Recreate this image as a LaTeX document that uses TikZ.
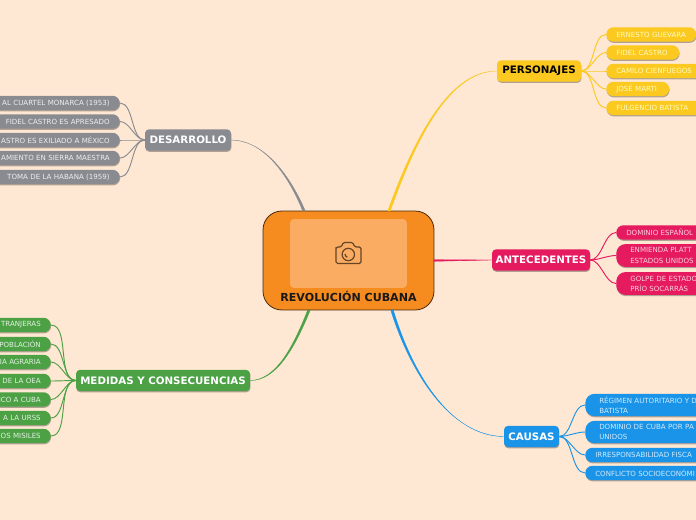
\documentclass[tikz,border=0pt]{standalone}
\usepackage{fontspec}
\setmainfont{DejaVu Sans}
\usetikzlibrary{calc,shadows}
\definecolor{bgc}{HTML}{FEE8D3}
\definecolor{orc}{HTML}{F68B1F}
\definecolor{orl}{HTML}{FAAC62}
\definecolor{yec}{HTML}{FBC91F}
\definecolor{pkc}{HTML}{E51A5F}
\definecolor{blc}{HTML}{1A94E8}
\definecolor{grc}{HTML}{8A8B91}
\definecolor{gnc}{HTML}{4CA145}
\tikzset{
  sh/.style={drop shadow={shadow xshift=0.3pt,shadow yshift=-0.9pt,opacity=.3,fill=black}},
  mainbox/.style={sh,rounded corners=3pt,inner sep=0pt,minimum height=16pt,font=\bfseries\fontsize{7.7}{10}\selectfont},
  pill/.style={sh,rounded corners=5.4pt,inner ysep=0pt,font=\fontsize{5.3}{7.6}\selectfont,minimum height=#1},
  pill/.default=10.8pt,
  link/.style={line width=.7pt,line cap=round},
  trunk/.style={line width=.25pt,line join=round}
}
\newcommand{\lpill}[7]{% name, colour, text colour, x, y centre, height, text
  \node[pill=#6,fill=#2,text=#3,anchor=east,minimum width=150pt,text width=135pt,inner xsep=7.5pt,align=right] (#1) at (#4,#5) {#7};}
\begin{document}
\begin{tikzpicture}[x=.75pt,y=-.75pt]
\useasboundingbox (0,0) rectangle (696,520);
\clip (0,0) rectangle (696,520);
\fill[bgc] (0,0) rectangle (696,520);

% centre
\node[draw=black!70!orc,line width=.6pt,fill=orc,rounded corners=14pt,minimum width=128.2pt,minimum height=74.2pt,inner sep=0pt] (root) at (348.5,260.5) {};
\node[fill=orl,rounded corners=3pt,minimum width=87.7pt,minimum height=51.7pt,inner sep=0pt] (pic) at (348.5,253.5) {};
\node[font=\bfseries\fontsize{8.3}{10}\selectfont,text=black!90,inner sep=0pt] (title) at (348.5,296) {REVOLUCIÓN CUBANA};

% camera icon
\begin{scope}[draw=black!60!orl,line width=.9pt,rounded corners=1.2pt,line join=round]
\draw (336,249) -- (336,263.5) -- (361,263.5) -- (361,247) -- (354.5,247) -- (353,242.5) -- (343,242.5) -- (341.5,247) -- (336,247) -- cycle;
\draw (348.3,254.5) circle[radius=6.2];
\draw (345,254) arc[start angle=180,end angle=110,radius=3.5];
\end{scope}

% main branches
\node[mainbox,fill=yec,text=black,minimum width=63pt] (pers) at (539,71) {PERSONAJES};
\node[mainbox,fill=pkc,text=white,minimum width=73.5pt] (ante) at (541,260) {ANTECEDENTES};
\node[mainbox,fill=blc,text=white,minimum width=41.2pt] (caus) at (531.5,436.5) {CAUSAS};
\node[mainbox,fill=grc,text=white,minimum width=64.5pt] (desa) at (188,140) {DESARROLLO};
\node[mainbox,fill=gnc,text=white,minimum width=130.5pt] (medi) at (163,380.5) {MEDIDAS Y CONSECUENCIAS};

% PERSONAJES children
\node[pill,fill=yec,text=yellow!25!white,anchor=west,minimum width=67.5pt,text width=52.5pt,inner xsep=7.5pt,align=left] (p1) at (606,34.5) {ERNESTO GUEVARA};
\node[pill,fill=yec,text=yellow!25!white,anchor=west,minimum width=54.7pt,text width=39.7pt,inner xsep=7.5pt,align=left] (p2) at (606,52.5) {FIDEL CASTRO};
\node[pill,fill=yec,text=yellow!25!white,anchor=west,minimum width=100pt,text width=85pt,inner xsep=7.5pt,align=left] (p3) at (606,71) {CAMILO CIENFUEGOS};
\node[pill,fill=yec,text=yellow!25!white,anchor=west,minimum width=47.2pt,text width=32.2pt,inner xsep=7.5pt,align=left] (p4) at (606,89) {JOSÉ MARTI};
\node[pill,fill=yec,text=yellow!25!white,anchor=west,minimum width=100pt,text width=85pt,inner xsep=7.5pt,align=left] (p5) at (606,108) {FULGENCIO BATISTA};

% ANTECEDENTES children
\node[pill,fill=pkc,text=pkc!20!white,anchor=west,minimum width=100pt,text width=85pt,inner xsep=7.5pt,align=left] (a1) at (616,232.5) {DOMINIO ESPAÑOL};
\node[pill=17.2pt,fill=pkc,text=pkc!20!white,anchor=west,minimum width=100pt,text width=82pt,inner xsep=10.5pt,align=left,rounded corners=7pt] (a2) at (616,255.5) {ENMIENDA PLATT\\ESTADOS UNIDOS};
\node[pill=17.2pt,fill=pkc,text=pkc!20!white,anchor=west,minimum width=100pt,text width=82pt,inner xsep=10.5pt,align=left,rounded corners=7pt] (a3) at (616,283.5) {GOLPE DE ESTADO\\PRÍO SOCARRÁS};

% CAUSAS children
\node[pill=16.8pt,fill=blc,text=blc!20!white,anchor=west,minimum width=120pt,text width=100pt,inner xsep=10.5pt,align=left,rounded corners=7pt] (c1) at (585,405) {RÉGIMEN AUTORITARIO Y D\\BATISTA};
\node[pill=16.8pt,fill=blc,text=blc!20!white,anchor=west,minimum width=120pt,text width=100pt,inner xsep=10.5pt,align=left,rounded corners=7pt] (c2) at (585,432) {DOMINIO DE CUBA POR PA\\UNIDOS};
\node[pill,fill=blc,text=blc!20!white,anchor=west,minimum width=120pt,text width=105pt,inner xsep=7.5pt,align=left] (c3) at (585,455) {IRRESPONSABILIDAD FISCA};
\node[pill,fill=blc,text=blc!20!white,anchor=west,minimum width=120pt,text width=105pt,inner xsep=7.5pt,align=left] (c4) at (585,473) {CONFLICTO SOCIOECONÓMI};

% DESARROLLO children
\lpill{d1}{grc}{grc!15!white}{120}{103}{10.8pt}{AL CUARTEL MONARCA (1953)}
\lpill{d2}{grc}{grc!15!white}{120}{121.5}{10.8pt}{FIDEL CASTRO ES APRESADO}
\lpill{d3}{grc}{grc!15!white}{120}{140}{10.8pt}{ASTRO ES EXILIADO A MÉXICO}
\lpill{d4}{grc}{grc!15!white}{120}{158}{10.8pt}{AMIENTO EN SIERRA MAESTRA}
\lpill{d5}{grc}{grc!15!white}{120}{177}{10.8pt}{TOMA DE LA HABANA (1959)}

% MEDIDAS children
\lpill{m1}{gnc}{gnc!15!white}{51}{325}{10.8pt}{TRANJERAS}
\lpill{m2}{gnc}{gnc!15!white}{51}{344}{10.8pt}{POBLACIÓN}
\lpill{m3}{gnc}{gnc!15!white}{51}{362}{10.8pt}{IA AGRARIA}
\lpill{m4}{gnc}{gnc!15!white}{51}{381}{10.8pt}{DE LA OEA}
\lpill{m5}{gnc}{gnc!15!white}{51}{399.5}{10.8pt}{ICO A CUBA}
\lpill{m6}{gnc}{gnc!15!white}{51}{418}{10.8pt}{A LA URSS}
\lpill{m7}{gnc}{gnc!15!white}{51}{436}{10.8pt}{OS MISILES}

% child connectors
\foreach \c in {p1,p2,p3,p4,p5}
  \draw[link,yec] (pers.east) to[out=0,in=180,looseness=.8] (\c.west);
\foreach \c in {a1,a2,a3}
  \draw[link,pkc] (ante.east) to[out=0,in=180,looseness=.8] (\c.west);
\foreach \c in {c1,c2,c3,c4}
  \draw[link,blc] (caus.east) to[out=0,in=180,looseness=.8] (\c.west);
\foreach \c in {d1,d2,d3,d4,d5}
  \draw[link,grc] (desa.west) to[out=180,in=0,looseness=.8] (\c.east);
\foreach \c in {m1,m2,m3,m4,m5,m6,m7}
  \draw[link,gnc] (medi.west) to[out=180,in=0,looseness=.8] (\c.east);

% tapered trunks from the centre
\coordinate (rp) at (389,211);
\coordinate (rd) at (304,211);
\coordinate (rm) at (309,310);
\coordinate (rc) at (392,310);
\coordinate (ra) at (434,260.5);
\draw[trunk,yec,fill=yec] ($(rp)+(-1.3,0)$) .. controls (410,150) and (445,71) .. (pers.west) .. controls (445.5,71.5) and (412,150.5) .. ($(rp)+(1.3,0)$) -- cycle;
\draw[trunk,grc,fill=grc] ($(rd)+(-1.3,0)$) .. controls (287,172) and (262,140) .. (desa.east) .. controls (262.5,140.5) and (288.5,172) .. ($(rd)+(1.3,0)$) -- cycle;
\draw[trunk,gnc,fill=gnc] ($(rm)+(-1.3,0)$) .. controls (292,350) and (275,380) .. (medi.east) .. controls (275.5,380.5) and (293.5,351) .. ($(rm)+(1.3,0)$) -- cycle;
\draw[trunk,blc,fill=blc] ($(rc)+(-1.3,0)$) .. controls (410,372) and (450,436) .. (caus.west) .. controls (449.5,436.5) and (411.5,371) .. ($(rc)+(1.3,0)$) -- cycle;
\draw[trunk,pkc,fill=pkc] ($(ra)+(0,-.8)$) -- (ante.west) -- ($(ra)+(0,.8)$) -- cycle;
\end{tikzpicture}
\end{document}
